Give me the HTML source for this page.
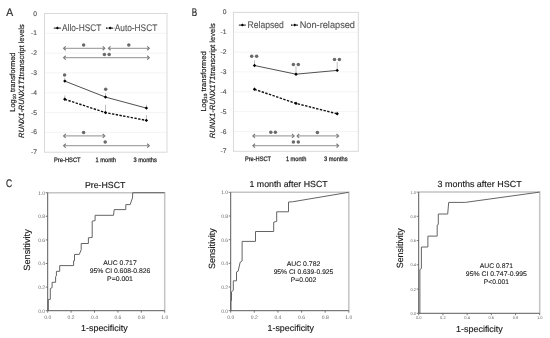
<!DOCTYPE html>
<html><head><meta charset="utf-8">
<style>
html,body{margin:0;padding:0;background:#fff;}
svg{display:block;}
text{font-family:"Liberation Sans",Arial,sans-serif;text-rendering:geometricPrecision;}
</style></head>
<body>
<svg width="550" height="338" viewBox="0 0 550 338">
<rect width="550" height="338" fill="#fff"/>
<text x="6.2" y="16" font-size="11" fill="#2a2a2a" text-anchor="start" textLength="6.9" lengthAdjust="spacingAndGlyphs" stroke="#2a2a2a" stroke-width="0.2" >A</text>
<text x="191.7" y="15.9" font-size="11" fill="#2a2a2a" text-anchor="start" textLength="5.4" lengthAdjust="spacingAndGlyphs" stroke="#2a2a2a" stroke-width="0.2" >B</text>
<text x="5.9" y="186.9" font-size="11" fill="#2a2a2a" text-anchor="start" textLength="6.1" lengthAdjust="spacingAndGlyphs" stroke="#2a2a2a" stroke-width="0.2" >C</text>
<path d="M44.5,33.3H167M44.5,53.1H167M44.5,72.9H167M44.5,92.8H167M44.5,112.6H167M44.5,132.4H167" stroke="#f4f4f4" stroke-width="1" fill="none"/>
<rect x="44.5" y="13.5" width="122.5" height="138.7" fill="none" stroke="#d9d9d9" stroke-width="1"/>
<text x="37" y="15.5" font-size="6.7" fill="#555" text-anchor="end" stroke="#555" stroke-width="0.15" >0</text>
<text x="37" y="35.3" font-size="6.7" fill="#555" text-anchor="end" stroke="#555" stroke-width="0.15" >-1</text>
<text x="37" y="55.1" font-size="6.7" fill="#555" text-anchor="end" stroke="#555" stroke-width="0.15" >-2</text>
<text x="37" y="74.9" font-size="6.7" fill="#555" text-anchor="end" stroke="#555" stroke-width="0.15" >-3</text>
<text x="37" y="94.8" font-size="6.7" fill="#555" text-anchor="end" stroke="#555" stroke-width="0.15" >-4</text>
<text x="37" y="114.6" font-size="6.7" fill="#555" text-anchor="end" stroke="#555" stroke-width="0.15" >-5</text>
<text x="37" y="134.4" font-size="6.7" fill="#555" text-anchor="end" stroke="#555" stroke-width="0.15" >-6</text>
<text x="37" y="154.2" font-size="6.7" fill="#555" text-anchor="end" stroke="#555" stroke-width="0.15" >-7</text>
<path d="M53.8,28.1H60.9" stroke="#000" stroke-width="0.9" fill="none"/>
<path d="M57.349999999999994,26.6L58.849999999999994,28.1L57.349999999999994,29.6L55.849999999999994,28.1Z" fill="#000"/>
<text x="62" y="31.4" font-size="9.6" fill="#555" text-anchor="start" textLength="39.3" lengthAdjust="spacingAndGlyphs" stroke="#555" stroke-width="0.12" >Allo-HSCT</text>
<path d="M106,28.1H114.2" stroke="#000" stroke-width="1.3" stroke-dasharray="1.6,1" fill="none"/>
<path d="M110.1,26.6L111.6,28.1L110.1,29.6L108.6,28.1Z" fill="#000"/>
<text x="114.7" y="31.4" font-size="9.6" fill="#555" text-anchor="start" textLength="42.6" lengthAdjust="spacingAndGlyphs" stroke="#555" stroke-width="0.12" >Auto-HSCT</text>
<path d="M64.8,81.1V77.8" stroke="#bdbdbd" stroke-width="1" fill="none"/>
<path d="M105.5,97.1V93.1" stroke="#bdbdbd" stroke-width="1" fill="none"/>
<path d="M146.4,108.1V104.8" stroke="#bdbdbd" stroke-width="1" fill="none"/>
<path d="M64.8,99.3V95.5" stroke="#bdbdbd" stroke-width="1" fill="none"/>
<path d="M105.5,112.6V104.7" stroke="#bdbdbd" stroke-width="1" fill="none"/>
<path d="M146.4,120.4V114.9" stroke="#bdbdbd" stroke-width="1" fill="none"/>
<path d="M64.8,81.1L105.5,97.1L146.4,108.1" stroke="#3c3c3c" stroke-width="0.9" fill="none"/>
<path d="M64.8,99.3L105.5,112.6L146.4,120.4" stroke="#111" stroke-width="1.4" stroke-dasharray="2.4,1.4" fill="none"/>
<path d="M64.8,79.39999999999999L66.5,81.1L64.8,82.8L63.099999999999994,81.1Z" fill="#000"/>
<path d="M105.5,95.39999999999999L107.2,97.1L105.5,98.8L103.8,97.1Z" fill="#000"/>
<path d="M146.4,106.39999999999999L148.1,108.1L146.4,109.8L144.70000000000002,108.1Z" fill="#000"/>
<path d="M64.8,97.6L66.5,99.3L64.8,101.0L63.099999999999994,99.3Z" fill="#000"/>
<path d="M105.5,110.89999999999999L107.2,112.6L105.5,114.3L103.8,112.6Z" fill="#000"/>
<path d="M146.4,118.7L148.1,120.4L146.4,122.10000000000001L144.70000000000002,120.4Z" fill="#000"/>
<circle cx="83.6" cy="45" r="1.75" fill="#6a6a6a"/>
<circle cx="128.8" cy="45" r="1.75" fill="#6a6a6a"/>
<circle cx="104.4" cy="54.6" r="1.75" fill="#6a6a6a"/>
<circle cx="109.2" cy="54.6" r="1.75" fill="#6a6a6a"/>
<circle cx="64.6" cy="74.9" r="1.75" fill="#6a6a6a"/>
<circle cx="105.7" cy="89.3" r="1.75" fill="#6a6a6a"/>
<circle cx="83.6" cy="132.6" r="1.75" fill="#6a6a6a"/>
<circle cx="105.2" cy="142.1" r="1.75" fill="#6a6a6a"/>
<path d="M64.2,48.3H104.2" stroke="#a6a6a6" stroke-width="1.3" fill="none"/><path d="M65.7,46.4L63.6,48.3L65.7,50.199999999999996M102.7,46.4L104.8,48.3L102.7,50.199999999999996" stroke="#7a7a7a" stroke-width="1.15" fill="none"/>
<path d="M109,48.3H148.7" stroke="#a6a6a6" stroke-width="1.3" fill="none"/><path d="M110.5,46.4L108.4,48.3L110.5,50.199999999999996M147.2,46.4L149.29999999999998,48.3L147.2,50.199999999999996" stroke="#7a7a7a" stroke-width="1.15" fill="none"/>
<path d="M64.2,57.7H148.7" stroke="#a6a6a6" stroke-width="1.3" fill="none"/><path d="M65.7,55.800000000000004L63.6,57.7L65.7,59.6M147.2,55.800000000000004L149.29999999999998,57.7L147.2,59.6" stroke="#7a7a7a" stroke-width="1.15" fill="none"/>
<path d="M64.2,135.9H104.2" stroke="#a6a6a6" stroke-width="1.3" fill="none"/><path d="M65.7,134.0L63.6,135.9L65.7,137.8M102.7,134.0L104.8,135.9L102.7,137.8" stroke="#7a7a7a" stroke-width="1.15" fill="none"/>
<path d="M64.2,145.7H148.7" stroke="#a6a6a6" stroke-width="1.3" fill="none"/><path d="M65.7,143.79999999999998L63.6,145.7L65.7,147.6M147.2,143.79999999999998L149.29999999999998,145.7L147.2,147.6" stroke="#7a7a7a" stroke-width="1.15" fill="none"/>
<text x="54" y="161.9" font-size="6.4" fill="#262626" text-anchor="start" textLength="26.6" lengthAdjust="spacingAndGlyphs" stroke="#262626" stroke-width="0.25" >Pre-HSCT</text>
<text x="95.6" y="161.9" font-size="6.4" fill="#262626" text-anchor="start" textLength="20.4" lengthAdjust="spacingAndGlyphs" stroke="#262626" stroke-width="0.25" >1 month</text>
<text x="133.6" y="161.9" font-size="6.4" fill="#262626" text-anchor="start" textLength="23.2" lengthAdjust="spacingAndGlyphs" stroke="#262626" stroke-width="0.25" >3 months</text>
<text transform="translate(14.8,82.15) rotate(-90)" font-size="7.3" fill="#1a1a1a" stroke="#1a1a1a" stroke-width="0.18" text-anchor="middle" textLength="59.1" lengthAdjust="spacingAndGlyphs">Log<tspan font-size="4.6" dy="1.2">10</tspan><tspan dy="-1.2"> transformed</tspan></text>
<text transform="translate(24.0,81.1) rotate(-90)" font-size="7.6" fill="#1a1a1a" stroke="#1a1a1a" stroke-width="0.18" text-anchor="middle" textLength="113.6" lengthAdjust="spacingAndGlyphs"><tspan font-style="italic">RUNX1-RUNX1T1</tspan>transcript levels</text>
<path d="M233.5,32.2H358.3M233.5,52.1H358.3M233.5,71.9H358.3M233.5,91.8H358.3M233.5,111.6H358.3M233.5,131.5H358.3" stroke="#f4f4f4" stroke-width="1" fill="none"/>
<rect x="233.5" y="12.4" width="124.8" height="138.9" fill="none" stroke="#d9d9d9" stroke-width="1"/>
<text x="226.4" y="14.4" font-size="6.7" fill="#555" text-anchor="end" stroke="#555" stroke-width="0.15" >0</text>
<text x="226.4" y="34.2" font-size="6.7" fill="#555" text-anchor="end" stroke="#555" stroke-width="0.15" >-1</text>
<text x="226.4" y="54.1" font-size="6.7" fill="#555" text-anchor="end" stroke="#555" stroke-width="0.15" >-2</text>
<text x="226.4" y="73.9" font-size="6.7" fill="#555" text-anchor="end" stroke="#555" stroke-width="0.15" >-3</text>
<text x="226.4" y="93.8" font-size="6.7" fill="#555" text-anchor="end" stroke="#555" stroke-width="0.15" >-4</text>
<text x="226.4" y="113.6" font-size="6.7" fill="#555" text-anchor="end" stroke="#555" stroke-width="0.15" >-5</text>
<text x="226.4" y="133.5" font-size="6.7" fill="#555" text-anchor="end" stroke="#555" stroke-width="0.15" >-6</text>
<text x="226.4" y="153.3" font-size="6.7" fill="#555" text-anchor="end" stroke="#555" stroke-width="0.15" >-7</text>
<path d="M238.8,25.1H245.9" stroke="#000" stroke-width="0.9" fill="none"/>
<path d="M242.35000000000002,23.6L243.85000000000002,25.1L242.35000000000002,26.6L240.85000000000002,25.1Z" fill="#000"/>
<text x="247.5" y="28.4" font-size="9.6" fill="#555" text-anchor="start" textLength="36.4" lengthAdjust="spacingAndGlyphs" stroke="#555" stroke-width="0.12" >Relapsed</text>
<path d="M291,25.1H298.6" stroke="#000" stroke-width="1.3" stroke-dasharray="1.6,1" fill="none"/>
<path d="M294.8,23.6L296.3,25.1L294.8,26.6L293.3,25.1Z" fill="#000"/>
<text x="299.7" y="28.4" font-size="9.6" fill="#555" text-anchor="start" textLength="55.3" lengthAdjust="spacingAndGlyphs" stroke="#555" stroke-width="0.12" >Non-relapsed</text>
<path d="M254.5,65.5V60.3" stroke="#bdbdbd" stroke-width="1" fill="none"/>
<path d="M296,74.2V66.4" stroke="#bdbdbd" stroke-width="1" fill="none"/>
<path d="M337.2,70.4V62" stroke="#bdbdbd" stroke-width="1" fill="none"/>
<path d="M254.5,89.3V87.5" stroke="#bdbdbd" stroke-width="1" fill="none"/>
<path d="M296,103.4V101.5" stroke="#bdbdbd" stroke-width="1" fill="none"/>
<path d="M337.2,113.8V111.5" stroke="#bdbdbd" stroke-width="1" fill="none"/>
<path d="M254.5,65.5L296,74.2L337.2,70.4" stroke="#3c3c3c" stroke-width="0.9" fill="none"/>
<path d="M254.5,89.3L296,103.4L337.2,113.8" stroke="#111" stroke-width="1.4" stroke-dasharray="2.4,1.4" fill="none"/>
<path d="M254.5,63.8L256.2,65.5L254.5,67.2L252.8,65.5Z" fill="#000"/>
<path d="M296,72.5L297.7,74.2L296,75.9L294.3,74.2Z" fill="#000"/>
<path d="M337.2,68.7L338.9,70.4L337.2,72.10000000000001L335.5,70.4Z" fill="#000"/>
<path d="M254.5,87.6L256.2,89.3L254.5,91.0L252.8,89.3Z" fill="#000"/>
<path d="M296,101.7L297.7,103.4L296,105.10000000000001L294.3,103.4Z" fill="#000"/>
<path d="M337.2,112.1L338.9,113.8L337.2,115.5L335.5,113.8Z" fill="#000"/>
<circle cx="251.7" cy="56.2" r="1.75" fill="#6a6a6a"/>
<circle cx="256.6" cy="56.2" r="1.75" fill="#6a6a6a"/>
<circle cx="293.4" cy="64.6" r="1.75" fill="#6a6a6a"/>
<circle cx="298.3" cy="64.6" r="1.75" fill="#6a6a6a"/>
<circle cx="334.5" cy="59.6" r="1.75" fill="#6a6a6a"/>
<circle cx="339.4" cy="59.6" r="1.75" fill="#6a6a6a"/>
<circle cx="270.8" cy="132.3" r="1.75" fill="#6a6a6a"/>
<circle cx="275.4" cy="132.3" r="1.75" fill="#6a6a6a"/>
<circle cx="317.4" cy="132.4" r="1.75" fill="#6a6a6a"/>
<circle cx="293.4" cy="142.1" r="1.75" fill="#6a6a6a"/>
<circle cx="298.3" cy="142.1" r="1.75" fill="#6a6a6a"/>
<path d="M253.5,135.9H293.5" stroke="#a6a6a6" stroke-width="1.3" fill="none"/><path d="M255.0,134.0L252.9,135.9L255.0,137.8M292.0,134.0L294.1,135.9L292.0,137.8" stroke="#7a7a7a" stroke-width="1.15" fill="none"/>
<path d="M297.7,135.9H338" stroke="#a6a6a6" stroke-width="1.3" fill="none"/><path d="M299.2,134.0L297.09999999999997,135.9L299.2,137.8M336.5,134.0L338.6,135.9L336.5,137.8" stroke="#7a7a7a" stroke-width="1.15" fill="none"/>
<path d="M253.5,145.7H338" stroke="#a6a6a6" stroke-width="1.3" fill="none"/><path d="M255.0,143.79999999999998L252.9,145.7L255.0,147.6M336.5,143.79999999999998L338.6,145.7L336.5,147.6" stroke="#7a7a7a" stroke-width="1.15" fill="none"/>
<text x="244.9" y="160.9" font-size="6.4" fill="#262626" text-anchor="start" textLength="26.2" lengthAdjust="spacingAndGlyphs" stroke="#262626" stroke-width="0.25" >Pre-HSCT</text>
<text x="285.9" y="160.9" font-size="6.4" fill="#262626" text-anchor="start" textLength="20.4" lengthAdjust="spacingAndGlyphs" stroke="#262626" stroke-width="0.25" >1 month</text>
<text x="324" y="160.9" font-size="6.4" fill="#262626" text-anchor="start" textLength="23.7" lengthAdjust="spacingAndGlyphs" stroke="#262626" stroke-width="0.25" >3 months</text>
<text transform="translate(205.9,81.45) rotate(-90)" font-size="7.3" fill="#1a1a1a" stroke="#1a1a1a" stroke-width="0.18" text-anchor="middle" textLength="60.3" lengthAdjust="spacingAndGlyphs">Log<tspan font-size="4.6" dy="1.2">10</tspan><tspan dy="-1.2"> transformed</tspan></text>
<text transform="translate(214.6,80.8) rotate(-90)" font-size="7.6" fill="#1a1a1a" stroke="#1a1a1a" stroke-width="0.18" text-anchor="middle" textLength="115" lengthAdjust="spacingAndGlyphs"><tspan font-style="italic">RUNX1-RUNX1T1</tspan>transcript levels</text>
<path d="M47.7,192.7H164.7V310.7" stroke="#c4c4c4" stroke-width="1.5" fill="none"/>
<path d="M48.3,310.7V299.4H50.3V288.5L52.1,287.7V282.3H55.6V276.6L56.4,276V271.3H59.7V265.6H73.6V260.8H74.5V254.4H79.3L81.2,249.7V243.5H88.4V237.8L92.2,237.4V221.2L95.1,220.6V215.3H113.5L114.2,209.6H125.8V204.6H130.1L132.5,197.9L132.7,192.7H164.7" stroke="#646464" stroke-width="1" fill="none" stroke-linejoin="miter"/>
<path d="M47.7,192.7V310.7H164.7" stroke="#5a5a5a" stroke-width="1" fill="none"/>
<path d="M45.7,310.7H47.7M47.7,310.7V312.7M45.7,287.1H47.7M71.1,310.7V312.7M45.7,263.5H47.7M94.5,310.7V312.7M45.7,239.9H47.7M117.9,310.7V312.7M45.7,216.3H47.7M141.3,310.7V312.7M45.7,192.7H47.7M164.7,310.7V312.7" stroke="#5a5a5a" stroke-width="0.8" fill="none"/>
<text transform="translate(45.1,312.5) scale(0.5)" font-size="10" fill="#666" text-anchor="end">0.0</text>
<text transform="translate(47.7,318.6) scale(0.5)" font-size="10" fill="#666" text-anchor="middle">0.0</text>
<text transform="translate(45.1,288.9) scale(0.5)" font-size="10" fill="#666" text-anchor="end">0.2</text>
<text transform="translate(71.1,318.6) scale(0.5)" font-size="10" fill="#666" text-anchor="middle">0.2</text>
<text transform="translate(45.1,265.3) scale(0.5)" font-size="10" fill="#666" text-anchor="end">0.4</text>
<text transform="translate(94.5,318.6) scale(0.5)" font-size="10" fill="#666" text-anchor="middle">0.4</text>
<text transform="translate(45.1,241.7) scale(0.5)" font-size="10" fill="#666" text-anchor="end">0.6</text>
<text transform="translate(117.9,318.6) scale(0.5)" font-size="10" fill="#666" text-anchor="middle">0.6</text>
<text transform="translate(45.1,218.1) scale(0.5)" font-size="10" fill="#666" text-anchor="end">0.8</text>
<text transform="translate(141.3,318.6) scale(0.5)" font-size="10" fill="#666" text-anchor="middle">0.8</text>
<text transform="translate(45.1,194.5) scale(0.5)" font-size="10" fill="#666" text-anchor="end">1.0</text>
<text transform="translate(164.7,318.6) scale(0.5)" font-size="10" fill="#666" text-anchor="middle">1.0</text>
<text x="105.2" y="187.6" font-size="8.8" fill="#1a1a1a" text-anchor="middle" textLength="40.4" lengthAdjust="spacingAndGlyphs" stroke="#1a1a1a" stroke-width="0.15" >Pre-HSCT</text>
<text transform="translate(30.4,250) rotate(-90)" font-size="9" fill="#1a1a1a" stroke="#1a1a1a" stroke-width="0.15" text-anchor="middle" textLength="41.5" lengthAdjust="spacingAndGlyphs">Sensitivity</text>
<text x="104.35" y="330.7" font-size="8.8" fill="#1a1a1a" text-anchor="middle" textLength="46.5" lengthAdjust="spacingAndGlyphs" stroke="#1a1a1a" stroke-width="0.15" >1-specificity</text>
<text x="120" y="264.9" font-size="6.7" fill="#1a1a1a" text-anchor="middle" textLength="33.4" lengthAdjust="spacingAndGlyphs" stroke="#1a1a1a" stroke-width="0.1" >AUC 0.717</text>
<text x="120" y="272.9" font-size="6.7" fill="#1a1a1a" text-anchor="middle" textLength="60.6" lengthAdjust="spacingAndGlyphs" stroke="#1a1a1a" stroke-width="0.1" >95% CI 0.608-0.826</text>
<text x="120" y="280.9" font-size="6.7" fill="#1a1a1a" text-anchor="middle" textLength="25.9" lengthAdjust="spacingAndGlyphs" stroke="#1a1a1a" stroke-width="0.1" >P=0.001</text>
<path d="M230.7,192.3H348.8V310.7" stroke="#c4c4c4" stroke-width="1.5" fill="none"/>
<path d="M230.9,310.7V300.7H231.5V291.8L233.3,290.4V280.8H236.5V272L238.1,271.3L240.2,262.2L242.1,260.9V241.4H255.5V231.5H273.7V222.2L276.7,221.4V211.8H288.5V202L292.4,201.8L348.8,192.3" stroke="#646464" stroke-width="1" fill="none" stroke-linejoin="miter"/>
<path d="M230.7,192.3V310.7H348.8" stroke="#5a5a5a" stroke-width="1" fill="none"/>
<path d="M228.7,310.7H230.7M230.7,310.7V312.7M228.7,287.0H230.7M254.3,310.7V312.7M228.7,263.3H230.7M277.9,310.7V312.7M228.7,239.7H230.7M301.6,310.7V312.7M228.7,216.0H230.7M325.2,310.7V312.7M228.7,192.3H230.7M348.8,310.7V312.7" stroke="#5a5a5a" stroke-width="0.8" fill="none"/>
<text transform="translate(228.1,312.5) scale(0.5)" font-size="10" fill="#666" text-anchor="end">0.0</text>
<text transform="translate(230.7,318.6) scale(0.5)" font-size="10" fill="#666" text-anchor="middle">0.0</text>
<text transform="translate(228.1,288.8) scale(0.5)" font-size="10" fill="#666" text-anchor="end">0.2</text>
<text transform="translate(254.3,318.6) scale(0.5)" font-size="10" fill="#666" text-anchor="middle">0.2</text>
<text transform="translate(228.1,265.1) scale(0.5)" font-size="10" fill="#666" text-anchor="end">0.4</text>
<text transform="translate(277.9,318.6) scale(0.5)" font-size="10" fill="#666" text-anchor="middle">0.4</text>
<text transform="translate(228.1,241.5) scale(0.5)" font-size="10" fill="#666" text-anchor="end">0.6</text>
<text transform="translate(301.6,318.6) scale(0.5)" font-size="10" fill="#666" text-anchor="middle">0.6</text>
<text transform="translate(228.1,217.8) scale(0.5)" font-size="10" fill="#666" text-anchor="end">0.8</text>
<text transform="translate(325.2,318.6) scale(0.5)" font-size="10" fill="#666" text-anchor="middle">0.8</text>
<text transform="translate(228.1,194.1) scale(0.5)" font-size="10" fill="#666" text-anchor="end">1.0</text>
<text transform="translate(348.8,318.6) scale(0.5)" font-size="10" fill="#666" text-anchor="middle">1.0</text>
<text x="288.55" y="187.2" font-size="8.8" fill="#1a1a1a" text-anchor="middle" textLength="78.1" lengthAdjust="spacingAndGlyphs" stroke="#1a1a1a" stroke-width="0.15" >1 month after HSCT</text>
<text transform="translate(214.7,248.65) rotate(-90)" font-size="9" fill="#1a1a1a" stroke="#1a1a1a" stroke-width="0.15" text-anchor="middle" textLength="40.7" lengthAdjust="spacingAndGlyphs">Sensitivity</text>
<text x="290.75" y="331.1" font-size="8.8" fill="#1a1a1a" text-anchor="middle" textLength="46.5" lengthAdjust="spacingAndGlyphs" stroke="#1a1a1a" stroke-width="0.15" >1-specificity</text>
<text x="303.5" y="265.5" font-size="6.7" fill="#1a1a1a" text-anchor="middle" textLength="33.5" lengthAdjust="spacingAndGlyphs" stroke="#1a1a1a" stroke-width="0.1" >AUC 0.782</text>
<text x="303.5" y="273.5" font-size="6.7" fill="#1a1a1a" text-anchor="middle" textLength="59.7" lengthAdjust="spacingAndGlyphs" stroke="#1a1a1a" stroke-width="0.1" >95% CI 0.639-0.925</text>
<text x="303.5" y="281.5" font-size="6.7" fill="#1a1a1a" text-anchor="middle" textLength="25.4" lengthAdjust="spacingAndGlyphs" stroke="#1a1a1a" stroke-width="0.1" >P=0.002</text>
<path d="M418.7,192.1H539.7V313.3" stroke="#c4c4c4" stroke-width="1.5" fill="none"/>
<path d="M419.9,313.3V269.5L421.4,268.5V247H427.9V236.1H437.2V225L438.3,224.4V214H447.7L448.7,202.4H465.3L539.7,192.1" stroke="#646464" stroke-width="1" fill="none" stroke-linejoin="miter"/>
<path d="M418.7,192.1V313.3H539.7" stroke="#5a5a5a" stroke-width="1" fill="none"/>
<path d="M416.7,313.3H418.7M418.7,313.3V315.3M416.7,289.1H418.7M442.9,313.3V315.3M416.7,264.8H418.7M467.1,313.3V315.3M416.7,240.6H418.7M491.3,313.3V315.3M416.7,216.3H418.7M515.5,313.3V315.3M416.7,192.1H418.7M539.7,313.3V315.3" stroke="#5a5a5a" stroke-width="0.8" fill="none"/>
<text transform="translate(416.1,314.8) scale(0.5)" font-size="8" fill="#666" text-anchor="end">0.0</text>
<text transform="translate(418.7,319.4) scale(0.5)" font-size="8" fill="#666" text-anchor="middle">0.0</text>
<text transform="translate(416.1,290.6) scale(0.5)" font-size="8" fill="#666" text-anchor="end">0.2</text>
<text transform="translate(442.9,319.4) scale(0.5)" font-size="8" fill="#666" text-anchor="middle">0.2</text>
<text transform="translate(416.1,266.3) scale(0.5)" font-size="8" fill="#666" text-anchor="end">0.4</text>
<text transform="translate(467.1,319.4) scale(0.5)" font-size="8" fill="#666" text-anchor="middle">0.4</text>
<text transform="translate(416.1,242.1) scale(0.5)" font-size="8" fill="#666" text-anchor="end">0.6</text>
<text transform="translate(491.3,319.4) scale(0.5)" font-size="8" fill="#666" text-anchor="middle">0.6</text>
<text transform="translate(416.1,217.8) scale(0.5)" font-size="8" fill="#666" text-anchor="end">0.8</text>
<text transform="translate(515.5,319.4) scale(0.5)" font-size="8" fill="#666" text-anchor="middle">0.8</text>
<text transform="translate(416.1,193.6) scale(0.5)" font-size="8" fill="#666" text-anchor="end">1.0</text>
<text transform="translate(539.7,319.4) scale(0.5)" font-size="8" fill="#666" text-anchor="middle">1.0</text>
<text x="479.6" y="187" font-size="8.8" fill="#1a1a1a" text-anchor="middle" textLength="84" lengthAdjust="spacingAndGlyphs" stroke="#1a1a1a" stroke-width="0.15" >3 months after HSCT</text>
<text transform="translate(403,248.3) rotate(-90)" font-size="9" fill="#1a1a1a" stroke="#1a1a1a" stroke-width="0.15" text-anchor="middle" textLength="40" lengthAdjust="spacingAndGlyphs">Sensitivity</text>
<text x="479.4" y="331.5" font-size="8.8" fill="#1a1a1a" text-anchor="middle" textLength="46.8" lengthAdjust="spacingAndGlyphs" stroke="#1a1a1a" stroke-width="0.15" >1-specificity</text>
<text x="496.4" y="267.8" font-size="6.7" fill="#1a1a1a" text-anchor="middle" textLength="33.2" lengthAdjust="spacingAndGlyphs" stroke="#1a1a1a" stroke-width="0.1" >AUC 0.871</text>
<text x="496.4" y="275.8" font-size="6.7" fill="#1a1a1a" text-anchor="middle" textLength="61.1" lengthAdjust="spacingAndGlyphs" stroke="#1a1a1a" stroke-width="0.1" >95% CI 0.747-0.995</text>
<text x="496.4" y="283.8" font-size="6.7" fill="#1a1a1a" text-anchor="middle" textLength="25.1" lengthAdjust="spacingAndGlyphs" stroke="#1a1a1a" stroke-width="0.1" >P&lt;0.001</text>
</svg>
</body></html>
